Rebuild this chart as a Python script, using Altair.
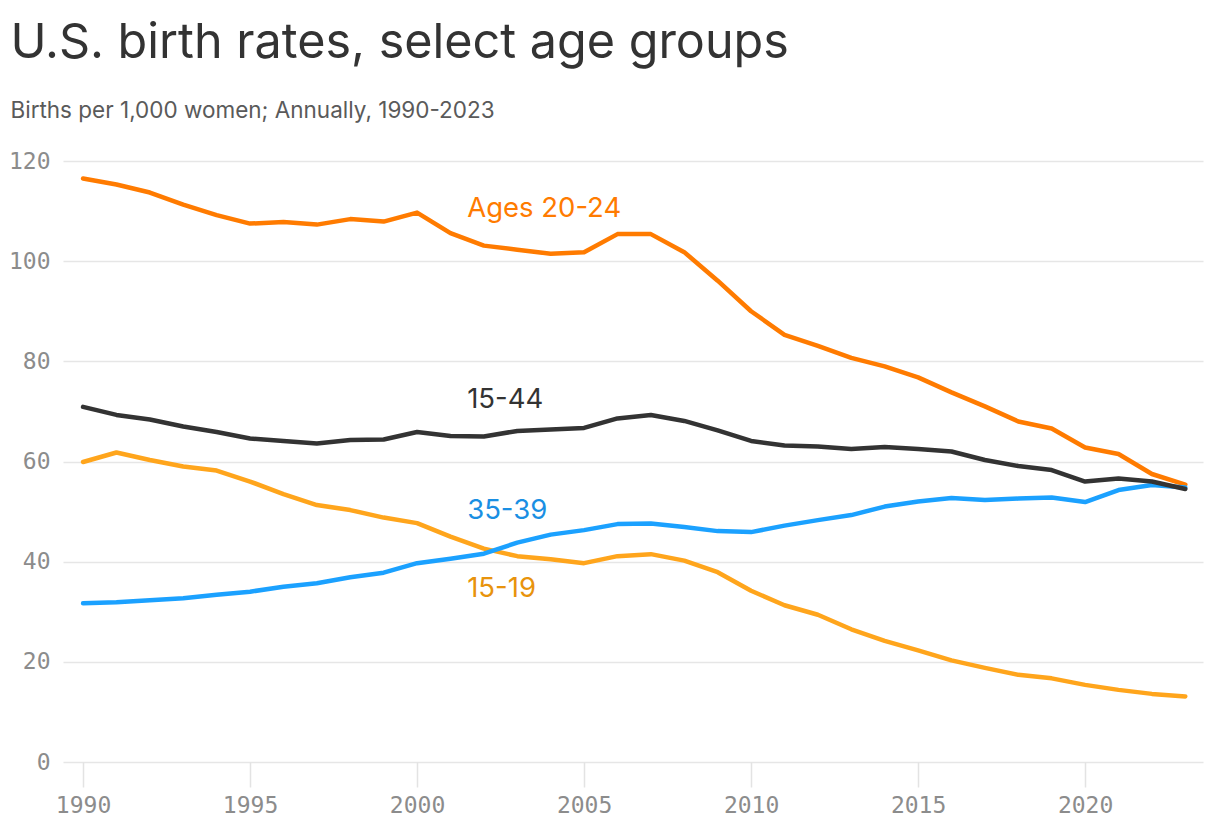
import altair as alt
import pandas as pd

years = list(range(1990, 2024))

ages_20_24 = [116.5, 115.3, 113.7, 111.3, 109.2, 107.5, 107.8, 107.3, 108.4, 107.9,
              109.7, 105.6, 103.1, 102.3, 101.5, 101.8, 105.4, 105.4, 101.8, 96.1,
              90.0, 85.3, 83.1, 80.7, 79.0, 76.8, 73.8, 71.0, 68.0, 66.6,
              62.8, 61.5, 57.5, 55.4]
ages_15_44 = [70.9, 69.3, 68.4, 67.0, 65.9, 64.6, 64.1, 63.6, 64.3, 64.4,
              65.9, 65.1, 65.0, 66.1, 66.4, 66.7, 68.6, 69.3, 68.1, 66.2,
              64.1, 63.2, 63.0, 62.5, 62.9, 62.5, 62.0, 60.3, 59.1, 58.3,
              56.0, 56.6, 56.0, 54.5]
ages_35_39 = [31.7, 31.9, 32.3, 32.7, 33.4, 34.0, 35.0, 35.7, 36.9, 37.8,
              39.7, 40.6, 41.6, 43.8, 45.4, 46.3, 47.5, 47.6, 46.9, 46.1,
              45.9, 47.2, 48.3, 49.3, 51.0, 52.0, 52.7, 52.3, 52.6, 52.8,
              51.9, 54.3, 55.3, 54.8]
ages_15_19 = [59.9, 61.8, 60.3, 59.0, 58.2, 56.0, 53.5, 51.3, 50.3, 48.8,
              47.7, 45.0, 42.6, 41.1, 40.5, 39.7, 41.1, 41.5, 40.2, 37.9,
              34.2, 31.3, 29.4, 26.5, 24.2, 22.3, 20.3, 18.8, 17.4, 16.7,
              15.4, 14.4, 13.6, 13.1]

series_names = ["15-19", "Ages 20-24", "35-39", "15-44"]
series_values = [ages_15_19, ages_20_24, ages_35_39, ages_15_44]
line_colors = ["#FFA51C", "#FF7B00", "#1BA1FF", "#333333"]
label_colors = ["#E8930C", "#FF7B00", "#1A8FE3", "#333333"]

# annotation anchors (data units)
label_text = ["15-19", "Ages 20-24", "35-39", "15-44"]
label_year = [2001.5, 2001.5, 2001.5, 2001.5]
label_value = [32.9, 108.9, 48.5, 70.7]

rows = []
for name, vals in zip(series_names, series_values):
    for y, v in zip(years, vals):
        rows.append({"year": y, "rate": v, "series": name})
df = pd.DataFrame(rows)

labels_df = pd.DataFrame({"text": label_text, "year": label_year,
                          "rate": label_value, "series": label_text})

x_scale = alt.Scale(domain=[1989.4, 2023.53], nice=False, zero=False)
y_scale = alt.Scale(domain=[0, 120], nice=False)
color_scale = alt.Scale(domain=series_names, range=line_colors)
label_color_scale = alt.Scale(domain=label_text, range=label_colors)

x_axis = alt.Axis(values=[1990, 1995, 2000, 2005, 2010, 2015, 2020], format="d",
                  title=None, grid=False, domain=False, ticks=True, tickSize=25,
                  tickColor="#e3e3e3", tickWidth=1.5, labelPadding=7,
                  labelFont="DejaVu Sans Mono", labelFontSize=23,
                  labelColor="#8c8c8c")
y_axis = alt.Axis(values=[0, 20, 40, 60, 80, 100, 120], title=None, grid=True,
                  gridColor="#e6e6e6", gridWidth=1.5, domain=False, ticks=False,
                  labelPadding=13, labelFont="DejaVu Sans Mono", labelFontSize=23,
                  labelColor="#8c8c8c")

lines = alt.Chart(df).mark_line(strokeWidth=4.5, strokeCap="round", strokeJoin="round", clip=True).encode(
    x=alt.X("year:Q", scale=x_scale, axis=x_axis),
    y=alt.Y("rate:Q", scale=y_scale, axis=y_axis),
    color=alt.Color("series:N", scale=color_scale, legend=None),
    order=alt.Order("series_order:Q"),
    detail="series:N",
).transform_calculate(
    series_order="indexof(['15-19','Ages 20-24','35-39','15-44'], datum.series)"
)

texts = alt.Chart(labels_df).mark_text(align="left", baseline="alphabetic",
                                      font="Inter", fontSize=27.5).encode(
    x=alt.X("year:Q", scale=x_scale),
    y=alt.Y("rate:Q", scale=y_scale),
    text="text:N",
    color=alt.Color("series:N", scale=label_color_scale, legend=None),
)

chart = alt.layer(lines, texts).resolve_scale(color="independent").properties(
    width=1140,
    height=601,
    padding={"left": 0, "top": 11, "right": 2, "bottom": 2},
    title=alt.TitleParams(
        text="U.S. birth rates, select age groups",
        subtitle="Births per 1,000 women; Annually, 1990-2023",
        anchor="start", frame="bounds", dx=2,
        font="Inter", fontSize=48.5, fontWeight=400, color="#333333",
        subtitleFont="Inter", subtitleFontSize=22.5, subtitleColor="#5a5a5a",
        subtitlePadding=31, offset=27,
    ),
).configure_view(stroke=None)

chart.save("out.html", embed_options={"renderer": "svg", "actions": False})
